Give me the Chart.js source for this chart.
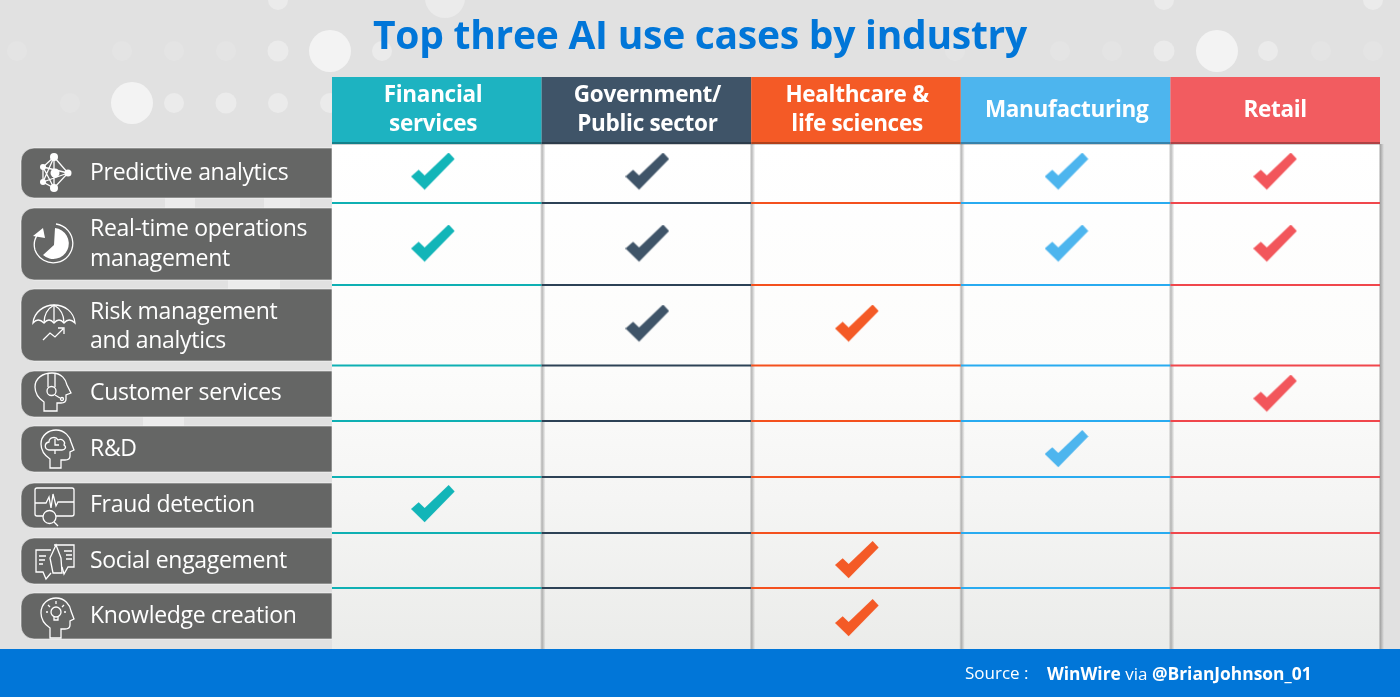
<!DOCTYPE html>
<html>
<head>
<meta charset="utf-8">
<title>Top three AI use cases by industry</title>
<script src="https://cdn.jsdelivr.net/npm/chart.js@4/dist/chart.umd.min.js"></script>
<style>
  html, body { margin: 0; padding: 0; }
  body { width: 1400px; height: 697px; position: relative; overflow: hidden; background: #e1e1e1; font-family: "Open Sans", sans-serif; }
  #bokeh, #icons { position: absolute; left: 0; top: 0; }
  #chart { position: absolute; left: 0; top: 0; }
  h1 { position: absolute; left: 0; top: 6px; width: 1400px; margin: 0; text-align: center; color: #0176d8; font-size: 39px; line-height: 56px; font-weight: 700; letter-spacing: -0.26px; }
  #foot { position: absolute; left: 0; top: 649px; width: 1400px; height: 48px; background: #0176d8; color: #fff; font-size: 17px; line-height: 48px; }
  #foot span { position: absolute; top: 0; white-space: nowrap; }
  #foot b { font-weight: 700; font-size: 17.4px; }
  #icons path, #icons circle, #icons rect, #icons line { fill: none; stroke: #fff; stroke-width: 1.3; }
  #icons .fill { fill: #fff; stroke: none; }
</style>
</head>
<body>

<svg id="bokeh" width="1400" height="697">
  <g fill="#f3f3f3"><circle cx="132" cy="103" r="21"/><circle cx="330" cy="51" r="21"/><circle cx="1217" cy="51" r="21"/></g>
  <g fill="#ebebeb"><circle cx="174" cy="103" r="10"/><circle cx="226" cy="103" r="10.5"/><circle cx="278" cy="103" r="10"/><circle cx="330" cy="103" r="10"/><circle cx="278" cy="51" r="10.5"/><circle cx="278" cy="0" r="10"/><circle cx="445" cy="-2" r="20"/><circle cx="1164" cy="51" r="10.5"/><circle cx="1268" cy="51" r="10"/><circle cx="1164" cy="0" r="10"/><circle cx="1373" cy="0" r="10"/><circle cx="382" cy="51" r="10"/></g>
  <g fill="#e4e4e4"><circle cx="70" cy="103" r="10"/><circle cx="17" cy="51" r="10"/><circle cx="122" cy="51" r="10"/><circle cx="174" cy="51" r="10"/><circle cx="226" cy="51" r="10"/><circle cx="955" cy="51" r="10"/><circle cx="1060" cy="51" r="10"/><circle cx="1112" cy="51" r="10"/><circle cx="1321" cy="51" r="10"/><circle cx="1373" cy="51" r="10"/></g>
  <g fill="#ececec"><rect x="165" y="198" width="30" height="10"/><rect x="264" y="198" width="36" height="10"/><rect x="228" y="280" width="52" height="9"/><rect x="143" y="417" width="41" height="9"/></g>
</svg>

<canvas id="chart" width="1400" height="697"></canvas>

<h1>Top three AI use cases by industry</h1>

<svg id="icons" width="1400" height="697">
  <!-- predictive analytics -->
  <g>
    <path d="M54 157L68 173L54 188L43 182L43 167ZM54 157V188M43 167L68 173M43 182L68 173M43 167L54 188M43 182L54 157"/>
    <circle class="fill" cx="54" cy="157" r="4"/><circle class="fill" cx="55" cy="173" r="4.5"/><circle class="fill" cx="68" cy="173" r="3.5"/>
    <circle class="fill" cx="54" cy="188" r="4"/><circle class="fill" cx="43" cy="167" r="3"/><circle class="fill" cx="43" cy="182" r="3"/>
  </g>
  <!-- real-time operations -->
  <g>
    <path d="M56 224A19.500 19.500 0 1 1 35 250C33 243 35 238 38 234"/>
    <path class="fill" d="M33 236L43 228L45 238Z"/>
    <path class="fill" d="M55 228A15.500 15.500 0 1 1 43 255L54 245Z"/>
  </g>
  <!-- risk management -->
  <g>
    <path d="M33 323C34 312 44 305 54 305C65 305 74 312 75 323Q69 317 64 323Q59 317 54 323Q49 317 44 323Q38 317 33 323Z"/>
    <path d="M54 305V323M54 305C47 309 44 316 44 323M54 305C61 309 64 316 64 323"/>
    <path d="M43 340L50 333L55 337L63 329M58 328H64V334"/>
  </g>
  <!-- customer services -->
  <g transform="translate(35 373)">
    <path d="M9 38V29C3 25 0 19 0 14C0 5 8 0 17 0C27 0 31 7 32 12L36 20L31 22V26Q31 30 26 30H22V38Z"/>
    <path d="M13 1V14M20 1V14"/>
    <circle cx="16.500" cy="18" r="4.500"/>
    <path d="M20 22L25 25"/><circle cx="27" cy="26" r="1.500"/>
  </g>
  <!-- R&D -->
  <g transform="translate(41 430)">
    <path d="M9 38V29C3 25 0 19 0 14C0 5 8 0 15 0C24 0 29 7 30 12L33 20L29 22V26Q29 30 24 30H20V38Z"/>
    <path d="M8 20C3 19 3 13 8 12C8 7 15 6 17 10C21 8 25 12 23 15C26 17 24 20 21 20Z"/>
    <path d="M14 9V15H18M14 20V24"/>
  </g>
  <!-- fraud detection -->
  <g>
    <rect x="35" y="488" width="39" height="28" rx="2"/>
    <path d="M35 503H46L49 497L51 508L53 494L56 506L58 502H74"/>
    <circle cx="49.500" cy="517" r="6.500" style="fill:#656665"/>
    <path d="M54 522L58 526"/>
  </g>
  <!-- social engagement -->
  <g>
    <path d="M51 550H36V572H43L46 579L51 573"/>
    <path d="M54 545H74V567H68L64 574L62 567"/>
    <path d="M56 545L50 558L53 573L62 573L61 558Z"/>
    <path d="M39 556H46M39 560H45M39 564H43M64 551H72M66 555H72M66 559H72"/>
  </g>
  <!-- knowledge creation -->
  <g transform="translate(41 598)">
    <path d="M9 40V30C3 26 0 20 0 15C0 5 8 0 15 0C24 0 29 7 30 13L33 21L29 23V27Q29 31 24 31H20V40Z"/>
    <circle cx="15" cy="14" r="5"/>
    <path d="M13 19V22H17V19M15 3V6M7 7L9 9M23 7L21 9M5 14H7M23 14H25"/>
  </g>
</svg>

<div id="foot">
  <span style="left:965px">Source :</span>
  <span style="left:1047px"><b>WinWire</b> via <b>@BrianJohnson_01</b></span>
</div>

<script>
// Data: 1 = ticked for that use case
const categories = [["Financial", "services"], ["Government/", "Public sector"], ["Healthcare &", "life sciences"], ["Manufacturing"], ["Retail"]];
const useCases = [
  ["Predictive analytics"],
  ["Real-time operations", "management"],
  ["Risk management", "and analytics"],
  ["Customer services"],
  ["R&D"],
  ["Fraud detection"],
  ["Social engagement"],
  ["Knowledge creation"]
];
const financial     = [1, 1, 0, 0, 0, 1, 0, 0];
const government    = [1, 1, 1, 0, 0, 0, 0, 0];
const healthcare    = [0, 0, 1, 0, 0, 0, 1, 1];
const manufacturing = [1, 1, 0, 0, 1, 0, 0, 0];
const retail        = [1, 1, 0, 1, 0, 0, 0, 0];
const allSeries = [financial, government, healthcare, manufacturing, retail];

// Colours and table layout. y units are pixels below the header.
const headerColors = ["#1db3c1", "#3f5468", "#f45a26", "#4db5ee", "#f25c60"];
const checkColors  = ["#12b5b8", "#3f5468", "#f45a26", "#4db5ee", "#f2565b"];
const lineColors   = ["#0fb0b3", "#2d4256", "#f4511e", "#29abf0", "#f0474c"];
const colCentres   = [0.482, 1.505, 2.505, 3.505, 4.5];
const rowCentres   = [27.5, 99.5, 179.5, 249.5, 305, 360, 416, 474];
const labelCentres = [29.5, 100.5, 183, 249.5, 305, 361, 417, 472];
const rowLines     = [59, 141, 221.5, 277, 333, 389, 444];
const pillTops     = [148, 208, 289, 371, 426, 483, 538, 593];
const pillBottoms  = [198, 280, 361, 417, 472, 528, 584, 639];
const FONT = "'Open Sans', sans-serif";

function makeCheck(color) {
  const c = document.createElement("canvas");
  c.width = 44; c.height = 38;
  const g = c.getContext("2d");
  g.fillStyle = color;
  g.beginPath();
  [[0, 24], [7.6, 17.3], [13.6, 23], [37.6, 0], [43.6, 6.6], [13.6, 37.3]].forEach((p, i) => i ? g.lineTo(p[0], p[1]) : g.moveTo(p[0], p[1]));
  g.closePath();
  g.fill();
  return c;
}

// Everything that sits behind the ticks and checks
const tablePlugin = {
  id: "table",
  beforeDraw(chart) {
    const ctx = chart.ctx, a = chart.chartArea, x = chart.scales.x;
    ctx.save();
    // use case pills
    pillTops.forEach((t, i) => {
      ctx.beginPath();
      ctx.roundRect(21, t, a.left - 21, pillBottoms[i] - t, [13, 0, 0, 13]);
      ctx.fillStyle = "#656665";
      ctx.fill();
      ctx.strokeStyle = "rgba(255,255,255,0.55)";
      ctx.lineWidth = 1;
      ctx.stroke();
    });
    // cells
    const bg = ctx.createLinearGradient(0, a.top, 0, a.bottom);
    bg.addColorStop(0, "#ffffff");
    bg.addColorStop(0.45, "#fcfcfb");
    bg.addColorStop(0.7, "#f5f5f4");
    bg.addColorStop(1, "#ebecea");
    ctx.fillStyle = bg;
    ctx.fillRect(a.left, a.top, a.right - a.left, a.bottom - a.top);
    // header boxes
    headerColors.forEach((col, i) => {
      const l = x.getPixelForValue(i), r = x.getPixelForValue(i + 1);
      ctx.fillStyle = col;
      ctx.fillRect(l, 77, r - l, a.top - 77);
      ctx.fillStyle = "rgba(0,0,0,0.28)";
      ctx.fillRect(l, a.top - 2, r - l, 2);
    });
    ctx.fillStyle = "rgba(0,0,0,0.18)";
    ctx.fillRect(a.left, a.top, a.right - a.left, 1);
    // shadows on the column edges
    [1, 2, 3, 4, 5].forEach(i => {
      const e = x.getPixelForValue(i);
      const g = ctx.createLinearGradient(e, 0, e + 4, 0);
      g.addColorStop(0, "rgba(110,110,110,0.55)");
      g.addColorStop(1, "rgba(110,110,110,0)");
      ctx.fillStyle = g;
      ctx.fillRect(e, a.top, 4, a.bottom - a.top);
      ctx.fillStyle = "rgba(110,110,110,0.3)";
      ctx.fillRect(e - 1, a.top, 1, a.bottom - a.top);
    });
    // row rules take the colour of their column
    rowLines.forEach(v => {
      const y = chart.scales.y.getPixelForValue(v);
      lineColors.forEach((col, i) => {
        ctx.fillStyle = col;
        ctx.fillRect(x.getPixelForValue(i), y - 1, x.getPixelForValue(i + 1) - x.getPixelForValue(i), 2);
      });
    });
    ctx.restore();
    // tick labels run a little wide in Open Sans
    ctx.letterSpacing = "-0.3px";
  }
};

const datasets = allSeries.map((vals, c) => ({
  label: categories[c].join(" "),
  data: vals.map((v, r) => v ? { x: colCentres[c], y: rowCentres[r] } : null).filter(Boolean),
  pointStyle: makeCheck(checkColors[c]),
  pointRadius: 22
}));

new Chart(document.getElementById("chart"), {
  type: "scatter",
  data: { datasets: datasets },
  plugins: [tablePlugin],
  options: {
    responsive: false,
    animation: false,
    // autoPadding would reserve the 22px point radius on every side
    layout: { autoPadding: false, padding: { left: 90, right: 20, top: 77, bottom: 48 } },
    plugins: { legend: { display: false }, tooltip: { enabled: false } },
    scales: {
      x: {
        type: "linear", position: "top", min: 0, max: 5,
        grid: { display: false }, border: { display: false },
        afterFit: s => { s.height = 67; s.paddingLeft = 0; s.paddingRight = 0; },
        afterBuildTicks: s => { s.ticks = colCentres.map(v => ({ value: v })); },
        ticks: {
          autoSkip: false, maxRotation: 0, crossAlign: "center", padding: 11,
          color: "#fff", font: { family: FONT, size: 22.5, weight: "700", lineHeight: 1.32 },
          callback: (v, i) => categories[i]
        }
      },
      y: {
        type: "linear", position: "left", min: 0, max: 505, reverse: true,
        grid: { display: false }, border: { display: false },
        afterFit: s => { s.width = 242; s.paddingTop = 0; s.paddingBottom = 0; },
        afterBuildTicks: s => { s.ticks = labelCentres.map(v => ({ value: v })); },
        ticks: {
          autoSkip: false, crossAlign: "far", padding: 0,
          color: "#fff", font: { family: FONT, size: 23, weight: "500", lineHeight: 1.28 },
          callback: (v, i) => useCases[i]
        }
      }
    }
  }
});
</script>
</body>
</html>
